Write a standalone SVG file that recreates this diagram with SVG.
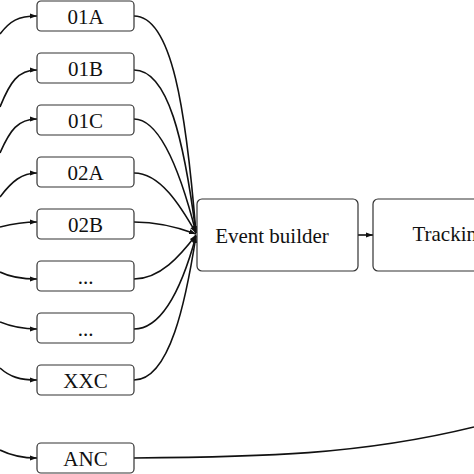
<svg xmlns="http://www.w3.org/2000/svg" width="474" height="474" viewBox="0 0 474 474">
<style>
.box{fill:#fff;stroke:#333;stroke-width:1.2}
.lbl{font-family:"Liberation Serif","Times New Roman",serif;font-size:21px;fill:#111;text-anchor:middle}
.c{fill:none;stroke:#111;stroke-width:1.6}
</style>
<defs>
<marker id="ah" markerWidth="8" markerHeight="6" refX="7" refY="3" orient="auto" markerUnits="userSpaceOnUse">
<path d="M0,0.5 L7,3 L0,5.5 Z" fill="#111"/>
</marker>
</defs>
<rect width="474" height="474" fill="#fff"/>
<g id="connectors">
<path class="c" marker-end="url(#ah)" d="M0,34 C10,21 18,16 37,16"/>
<path class="c" marker-end="url(#ah)" d="M0,107 C10,82 18,70 37,70"/>
<path class="c" marker-end="url(#ah)" d="M0,153 C10,130 18,119 37,119"/>
<path class="c" marker-end="url(#ah)" d="M0,197 C12,181 22,173 37,173"/>
<path class="c" marker-end="url(#ah)" d="M0,227 C12,224 24,222 37,222"/>
<path class="c" marker-end="url(#ah)" d="M0,272 C12,278 24,279 37,279"/>
<path class="c" marker-end="url(#ah)" d="M0,322 C12,327 24,329 37,329"/>
<path class="c" marker-end="url(#ah)" d="M0,368 C10,377 20,380 37,380"/>
<path class="c" marker-end="url(#ah)" d="M0,450 C12,456 24,458 37,458"/>
<path class="c" marker-end="url(#ah)" d="M134,16 C172,16 186,110 196,233"/>
<path class="c" marker-end="url(#ah)" d="M134,70 C168,70 184,140 196,233"/>
<path class="c" marker-end="url(#ah)" d="M134,119 C160,119 180,170 196,233"/>
<path class="c" marker-end="url(#ah)" d="M134,173 C160,173 180,205 196,233"/>
<path class="c" marker-end="url(#ah)" d="M134,222 C160,222 180,228 196,234"/>
<path class="c" marker-end="url(#ah)" d="M134,279 C160,279 180,256 196,235"/>
<path class="c" marker-end="url(#ah)" d="M134,329 C165,329 184,280 196,236"/>
<path class="c" marker-end="url(#ah)" d="M134,380 C170,380 186,300 196,236"/>
<path class="c" marker-end="url(#ah)" d="M358,235 L373,235"/>
<path class="c" d="M134,458 C260,457 360,455 474,427"/>
</g>
<g id="n01A"><rect class="box" x="37" y="1" width="97" height="30" rx="4"/><text class="lbl" x="85.5" y="23.5">01A</text></g>
<g id="n01B"><rect class="box" x="37" y="53" width="97" height="30" rx="4"/><text class="lbl" x="85.5" y="75.5">01B</text></g>
<g id="n01C"><rect class="box" x="37" y="105" width="97" height="30" rx="4"/><text class="lbl" x="85.5" y="127.5">01C</text></g>
<g id="n02A"><rect class="box" x="37" y="157" width="97" height="30" rx="4"/><text class="lbl" x="85.5" y="179.5">02A</text></g>
<g id="n02B"><rect class="box" x="37" y="209" width="97" height="30" rx="4"/><text class="lbl" x="85.5" y="231.5">02B</text></g>
<g id="nDots1"><rect class="box" x="37" y="261" width="97" height="30" rx="4"/><text class="lbl" x="85.5" y="283.5">...</text></g>
<g id="nDots2"><rect class="box" x="37" y="313" width="97" height="30" rx="4"/><text class="lbl" x="85.5" y="335.5">...</text></g>
<g id="nXXC"><rect class="box" x="37" y="365" width="97" height="30" rx="4"/><text class="lbl" x="85.5" y="387.5">XXC</text></g>
<g id="nANC"><rect class="box" x="37" y="443" width="97" height="30" rx="4"/><text class="lbl" x="85.5" y="465.5">ANC</text></g>
<g id="nEvent"><rect class="box" x="197" y="199" width="161" height="72" rx="5"/><text class="lbl" x="272" y="243">Event builder</text></g>
<g id="nTracking"><rect class="box" x="373" y="199" width="154" height="72" rx="5"/><text class="lbl" x="450" y="241">Tracking</text></g>
</svg>
